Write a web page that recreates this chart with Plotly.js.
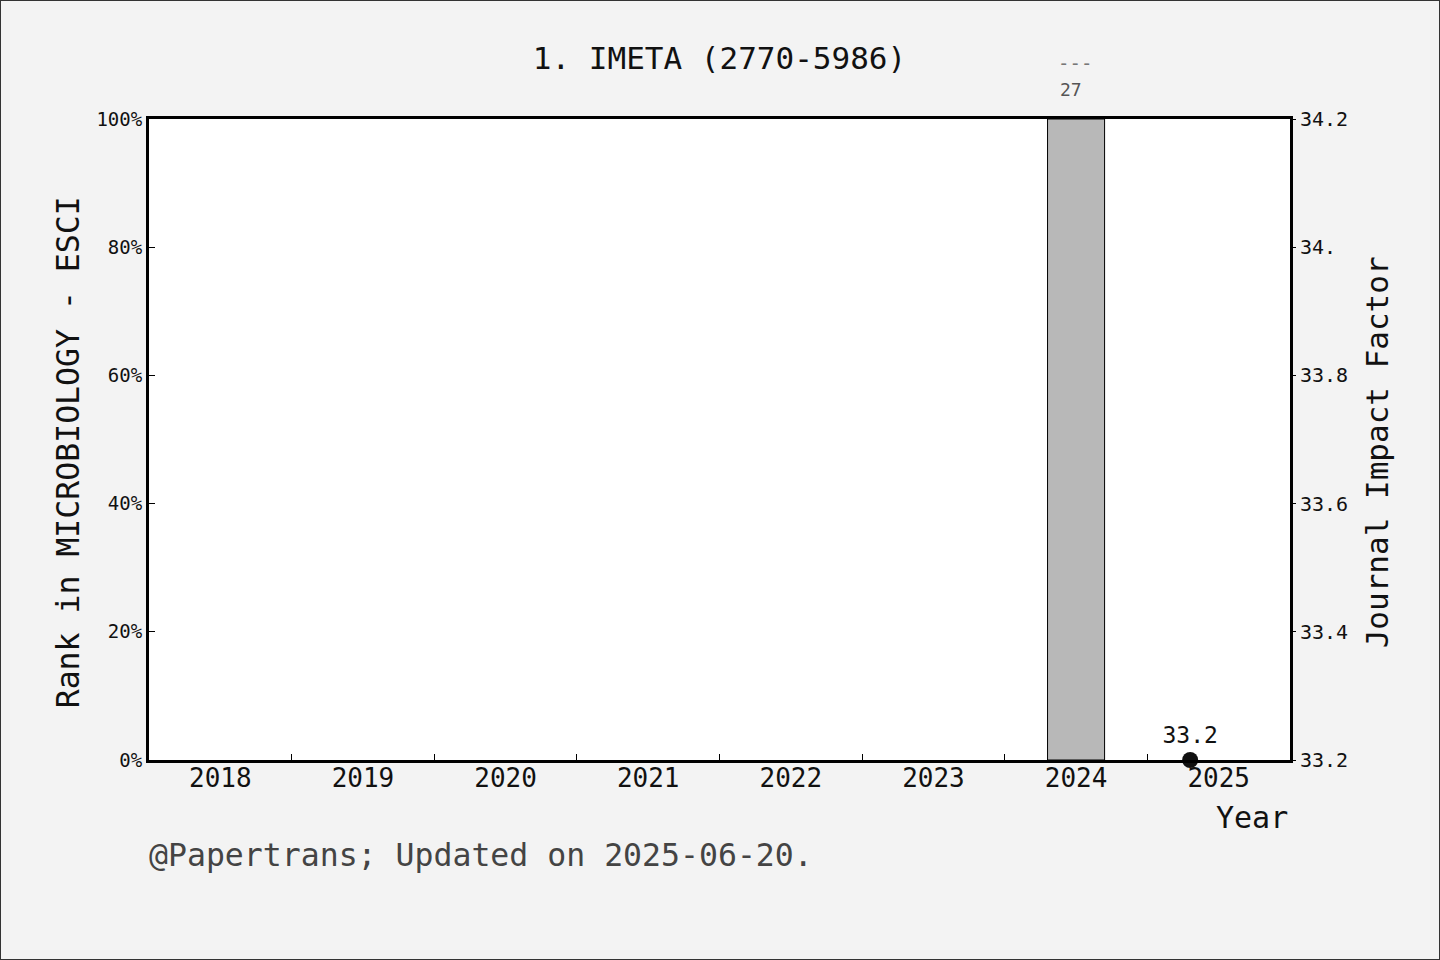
<!DOCTYPE html>
<html>
<head>
<meta charset="utf-8">
<script src="https://cdn.plot.ly/plotly-3.0.1.min.js"></script>
<style>
  body { margin: 0; background: #fff; }
  #chart { width: 1438px; height: 958px; border: 1px solid #333; }
</style>
</head>
<body>
<div id="chart"></div>
<script>
// data
var years = [2018, 2019, 2020, 2021, 2022, 2023, 2024, 2025];
var rankYears = [2024];
var rankPct = [100];
var rankLabels = ['---', '27'];
var jifYears = [2024.8];
var jifValues = [33.2];
var jifTickVals = [33.2, 33.4, 33.6, 33.8, 34.0, 34.2];
var jifTickText = ['33.2', '33.4', '33.6', '33.8', '34.', '34.2'];
var pctTicks = [0, 20, 40, 60, 80, 100];

var FONT = 'DejaVu Sans Mono, monospace';

// boundaries between years get the small inside ticks
var boundaries = years.slice(0, -1).map(function(y) { return y + 0.5; });

var bars = {
    type: 'bar',
    x: rankYears,
    y: rankPct,
    width: 0.4,
    marker: { color: '#b8b8b8', line: { color: '#000', width: 1 } },
    hoverinfo: 'skip',
    showlegend: false
};

var jif = {
    type: 'scatter',
    mode: 'markers+text',
    x: jifYears,
    y: jifValues,
    yaxis: 'y2',
    text: jifValues.map(function(v) { return v.toFixed(1); }),
    textposition: 'top center',
    textfont: { family: FONT, size: 23, color: '#111' },
    marker: { color: '#111', size: 16 },
    cliponaxis: false,
    showlegend: false
};

var annots = [
    {
        x: rankYears[0], y: 1, xref: 'x', yref: 'paper', yshift: 69, xshift: -1,
        text: rankLabels[0], showarrow: false,
        font: { family: FONT, size: 19, color: '#777' }
    },
    {
        x: rankYears[0], y: 1, xref: 'x', yref: 'paper', yshift: 42, xshift: -5,
        text: rankLabels[1], showarrow: false,
        font: { family: FONT, size: 18, color: '#555' }
    },
    {
        x: 1, y: 0, xref: 'paper', yref: 'paper', xanchor: 'right', yanchor: 'middle',
        yshift: -57, text: 'Year', showarrow: false,
        font: { family: FONT, size: 30, color: '#111' }
    },
    {
        x: 0, y: 0, xref: 'paper', yref: 'paper', xanchor: 'left', yanchor: 'middle',
        yshift: -95, xshift: -2, text: '@Papertrans; Updated on 2025-06-20.', showarrow: false,
        font: { family: FONT, size: 31.5, color: '#444' }
    },
    {
        x: 0, y: 0.48, xref: 'paper', yref: 'paper', xanchor: 'center', yanchor: 'middle',
        xshift: -81, textangle: -90, text: 'Rank in MICROBIOLOGY - ESCI', showarrow: false,
        font: { family: FONT, size: 31.5, color: '#111' }
    },
    {
        x: 1, y: 0.48, xref: 'paper', yref: 'paper', xanchor: 'center', yanchor: 'middle',
        xshift: 87, textangle: -90, text: 'Journal Impact Factor', showarrow: false,
        font: { family: FONT, size: 31, color: '#111' }
    }
];

var layout = {
    width: 1438,
    height: 958,
    paper_bgcolor: '#f3f3f3',
    plot_bgcolor: '#ffffff',
    margin: { l: 148, r: 149, t: 118, b: 199 },
    title: {
        text: '1. IMETA (2770-5986)',
        x: 0.5, xref: 'paper', y: 0.94, yanchor: 'middle',
        font: { family: FONT, size: 31, color: '#111' }
    },
    xaxis: {
        range: [2017.5, 2025.5],
        tickvals: years,
        ticktext: years.map(String),
        ticks: '',
        ticklabelstandoff: -7,
        tickfont: { family: FONT, size: 26, color: '#111' },
        showgrid: false, zeroline: false,
        showline: true, mirror: true, linecolor: '#000', linewidth: 3,
        minor: { tickvals: boundaries, ticks: 'inside', ticklen: 6, tickcolor: '#000', tickwidth: 1 }
    },
    yaxis: {
        range: [0, 100],
        tickvals: pctTicks,
        ticktext: pctTicks.map(function(v) { return v + '%'; }),
        ticks: 'inside', ticklen: 6, tickcolor: '#000',
        tickfont: { family: FONT, size: 19, color: '#111' },
        showgrid: false, zeroline: false,
        showline: true, mirror: true, linecolor: '#000', linewidth: 3
    },
    yaxis2: {
        overlaying: 'y',
        side: 'right',
        range: [33.2, 34.2],
        tickvals: jifTickVals,
        ticktext: jifTickText,
        ticks: 'outside', ticklen: 5, tickcolor: '#000',
        tickfont: { family: FONT, size: 20, color: '#111' },
        showgrid: false, zeroline: false
    },
    annotations: annots,
    bargap: 0
};

Plotly.newPlot('chart', [bars, jif], layout, { displayModeBar: false, staticPlot: true });
</script>
</body>
</html>
